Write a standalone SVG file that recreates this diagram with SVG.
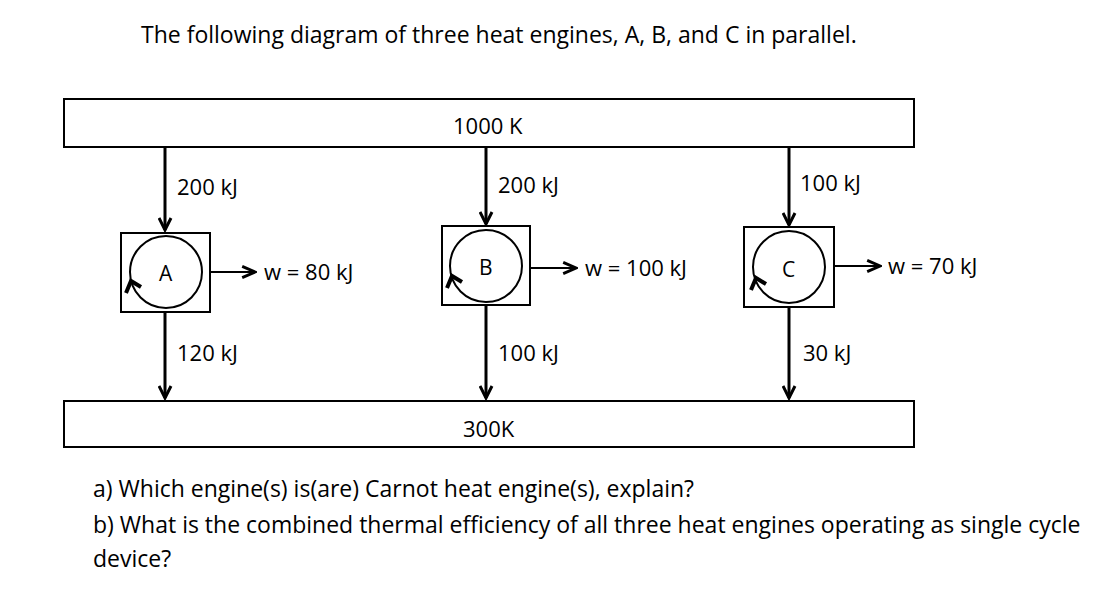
<svg xmlns="http://www.w3.org/2000/svg" width="1120" height="608" viewBox="0 0 1120 608">
<defs>
<style>
text{font-family:"Open Sans","Liberation Sans",sans-serif;fill:#000}
.t{font-size:23px}.l{font-size:22px}.s{font-size:21px}
.res,.box{fill:#fff;stroke:#000;stroke-width:2}
.cyc{fill:none;stroke:#000;stroke-width:2}
.ln{stroke:#000;stroke-width:3;fill:none}
.ch{stroke:#000;stroke-width:4;fill:none}
.wk{stroke:#000;stroke-width:2;fill:none}
</style>
<marker id="ah" viewBox="0 0 10 10" refX="9" refY="5" markerWidth="5" markerHeight="5" orient="auto" markerUnits="strokeWidth"><path d="M1,1 L9,5 L1,9" fill="none" stroke="#000" stroke-width="2"/></marker>
<marker id="aw" viewBox="0 0 10 10" refX="9" refY="5" markerWidth="8" markerHeight="8" orient="auto" markerUnits="strokeWidth"><path d="M1,1.5 L9,5 L1,8.5" fill="none" stroke="#000" stroke-width="1.8"/></marker>
</defs>
<rect width="1120" height="608" fill="#fff"/>
<text class="t" x="141" y="43">The following diagram of three heat engines, A, B, and C in parallel.</text>
<g id="hot"><rect class="res" x="64" y="99" width="850" height="48"/><text class="l" x="453" y="134">1000 K</text></g>
<g id="cold"><rect class="res" x="64" y="401" width="850" height="46"/><text class="l" x="463" y="437">300K</text></g>
<g id="engineA"><rect class="box" x="121" y="233" width="89" height="79"/><circle class="cyc" cx="166" cy="272" r="36"/><path class="ch" d="M126,293 L131,281 L141,287"/><text class="s" x="159" y="281">A</text></g>
<g id="engineB"><rect class="box" x="442" y="226" width="88" height="79"/><circle class="cyc" cx="486" cy="266" r="36"/><path class="ch" d="M447,288 L452,276 L462,282"/><text class="s" x="479" y="275">B</text></g>
<g id="engineC"><rect class="box" x="744" y="227" width="90" height="80"/><circle class="cyc" cx="789" cy="267" r="36"/><path class="ch" d="M751,290 L756,278 L766,284"/><text class="s" x="782" y="277">C</text></g>
<g id="connectors">
<line class="ln" x1="165" y1="147" x2="165" y2="230" marker-end="url(#ah)"/>
<line class="ln" x1="165" y1="312" x2="165" y2="398" marker-end="url(#ah)"/>
<line class="ln" x1="486" y1="147" x2="486" y2="224" marker-end="url(#ah)"/>
<line class="ln" x1="486" y1="305" x2="486" y2="398" marker-end="url(#ah)"/>
<line class="ln" x1="789" y1="147" x2="789" y2="225" marker-end="url(#ah)"/>
<line class="ln" x1="789" y1="307" x2="789" y2="398" marker-end="url(#ah)"/>
<line class="wk" x1="210" y1="272" x2="255" y2="272" marker-end="url(#aw)"/>
<line class="wk" x1="530" y1="268" x2="576" y2="268" marker-end="url(#aw)"/>
<line class="wk" x1="834" y1="266" x2="880" y2="266" marker-end="url(#aw)"/>
</g>
<g id="labels">
<text class="l" x="177" y="195">200 kJ</text>
<text class="l" x="498" y="193">200 kJ</text>
<text class="l" x="800" y="191">100 kJ</text>
<text class="l" x="177" y="361">120 kJ</text>
<text class="l" x="498" y="361">100 kJ</text>
<text class="l" x="803" y="361">30 kJ</text>
<text class="l" x="264" y="280">w = 80 kJ</text>
<text class="l" x="585" y="276">w = 100 kJ</text>
<text class="l" x="888" y="274">w = 70 kJ</text>
</g>
<text class="t" x="93" y="497">a) Which engine(s) is(are) Carnot heat engine(s), explain?</text>
<text class="t" x="93" y="533">b) What is the combined thermal efficiency of all three heat engines operating as single cycle</text>
<text class="t" x="93" y="567">device?</text>
</svg>
